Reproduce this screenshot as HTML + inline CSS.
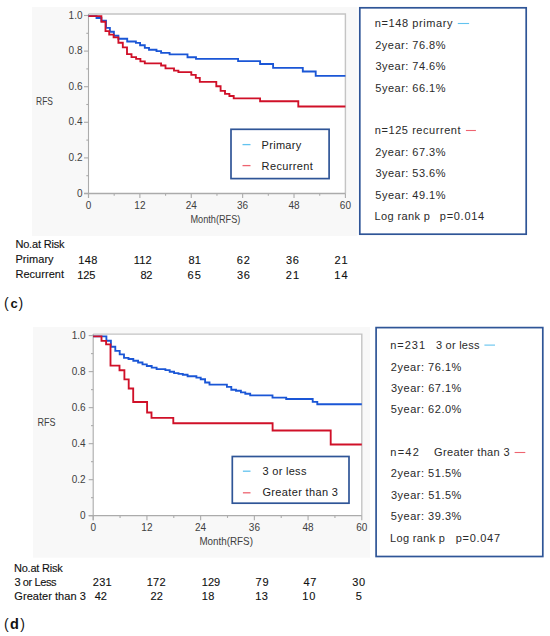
<!DOCTYPE html>
<html><head><meta charset="utf-8"><title>KM curves</title><style>
html,body{margin:0;padding:0;background:#fff;width:550px;height:636px;overflow:hidden;}
svg{display:block;font-family:"Liberation Sans", sans-serif;}
.tk{fill:#404040;}
.tt{font-size:9.7px;fill:#404040;}
.lg{font-size:11.4px;fill:#1a1a1a;}
.bx{font-size:11px;fill:#1a1a1a;letter-spacing:0.55px;}
.rk{font-size:11px;fill:#111;letter-spacing:-0.25px;}
.lab{font-size:14px;fill:#111;}
</style></head><body>
<svg width="550" height="636" viewBox="0 0 550 636">
<rect width="550" height="636" fill="#fff"/>
<rect x="32" y="7" width="325.5" height="229.0" fill="#F8F8F8"/>
<rect x="88.5" y="14.0" width="256.9" height="179.5" fill="#fff"/>
<path d="M88.5,14.0 H345.4 V193.5" fill="none" stroke="#C4C4C4" stroke-width="1.4"/>
<path d="M88.5,14.0 V198.0" fill="none" stroke="#ABABAB" stroke-width="1.1"/>
<path d="M84.0,193.5 H345.4" fill="none" stroke="#ABABAB" stroke-width="1.3"/>
<path d="M84.0,193.50 H88.5" stroke="#ABABAB" stroke-width="1.1"/>
<text x="82.5" y="196.5" text-anchor="end" class="tk" font-size="10.0">0</text>
<path d="M86.3,175.70 H88.5" stroke="#ABABAB" stroke-width="1.1"/>
<path d="M84.0,157.90 H88.5" stroke="#ABABAB" stroke-width="1.1"/>
<text x="82.5" y="160.9" text-anchor="end" class="tk" font-size="10.0">0.2</text>
<path d="M86.3,140.10 H88.5" stroke="#ABABAB" stroke-width="1.1"/>
<path d="M84.0,122.30 H88.5" stroke="#ABABAB" stroke-width="1.1"/>
<text x="82.5" y="125.3" text-anchor="end" class="tk" font-size="10.0">0.4</text>
<path d="M86.3,104.50 H88.5" stroke="#ABABAB" stroke-width="1.1"/>
<path d="M84.0,86.70 H88.5" stroke="#ABABAB" stroke-width="1.1"/>
<text x="82.5" y="89.7" text-anchor="end" class="tk" font-size="10.0">0.6</text>
<path d="M86.3,68.90 H88.5" stroke="#ABABAB" stroke-width="1.1"/>
<path d="M84.0,51.10 H88.5" stroke="#ABABAB" stroke-width="1.1"/>
<text x="82.5" y="54.1" text-anchor="end" class="tk" font-size="10.0">0.8</text>
<path d="M86.3,33.30 H88.5" stroke="#ABABAB" stroke-width="1.1"/>
<path d="M84.0,15.50 H88.5" stroke="#ABABAB" stroke-width="1.1"/>
<text x="82.5" y="18.5" text-anchor="end" class="tk" font-size="10.0">1.0</text>
<path d="M88.50,193.5 V198.0" stroke="#ABABAB" stroke-width="1.1"/>
<text x="88.5" y="208.5" text-anchor="middle" class="tk" font-size="10.0">0</text>
<path d="M114.19,193.5 V195.7" stroke="#ABABAB" stroke-width="1.1"/>
<path d="M139.88,193.5 V198.0" stroke="#ABABAB" stroke-width="1.1"/>
<text x="139.9" y="208.5" text-anchor="middle" class="tk" font-size="10.0">12</text>
<path d="M165.57,193.5 V195.7" stroke="#ABABAB" stroke-width="1.1"/>
<path d="M191.26,193.5 V198.0" stroke="#ABABAB" stroke-width="1.1"/>
<text x="191.3" y="208.5" text-anchor="middle" class="tk" font-size="10.0">24</text>
<path d="M216.95,193.5 V195.7" stroke="#ABABAB" stroke-width="1.1"/>
<path d="M242.64,193.5 V198.0" stroke="#ABABAB" stroke-width="1.1"/>
<text x="242.6" y="208.5" text-anchor="middle" class="tk" font-size="10.0">36</text>
<path d="M268.33,193.5 V195.7" stroke="#ABABAB" stroke-width="1.1"/>
<path d="M294.02,193.5 V198.0" stroke="#ABABAB" stroke-width="1.1"/>
<text x="294.0" y="208.5" text-anchor="middle" class="tk" font-size="10.0">48</text>
<path d="M319.71,193.5 V195.7" stroke="#ABABAB" stroke-width="1.1"/>
<path d="M345.40,193.5 V198.0" stroke="#ABABAB" stroke-width="1.1"/>
<text x="345.4" y="208.5" text-anchor="middle" class="tk" font-size="10.0">60</text>
<text transform="translate(36.11,105.0) scale(0.8194,1)" font-size="10.3" fill="#404040">RFS</text>
<text transform="translate(190.45,222.7) scale(0.9168,1)" font-size="10.0" fill="#404040">Month(RFS)</text>
<path d="M88.5,16.1 H96.5 V18.0 H101.4 V20.7 H106.0 V27.9 H109.9 V31.7 H113.9 V35.7 H118.4 V38.7 H127.2 V41.5 H135.9 V42.8 H140.1 V45.2 H144.8 V47.9 H149.0 V49.7 H156.5 V51.1 H161.1 V52.8 H169.6 V54.3 H187.5 V57.2 H196.0 V58.9 H238.1 V61.1 H260.1 V64.0 H273.1 V67.8 H302.8 V71.5 H315.7 V75.9 H345.4" fill="none" stroke="#1A56D6" stroke-width="1.85"/>
<path d="M88.5,16.1 H101.4 V21.7 H105.5 V31.1 H109.2 V34.6 H113.6 V37.4 H118.4 V42.7 H122.8 V47.4 H127.0 V54.1 H131.5 V57.1 H136.1 V58.9 H140.4 V61.4 H144.8 V63.4 H161.1 V65.5 H165.5 V68.3 H174.0 V70.6 H178.4 V72.1 H191.3 V74.8 H195.8 V77.9 H199.8 V81.8 H216.3 V86.2 H220.6 V90.8 H225.0 V93.8 H229.4 V96.0 H233.7 V98.3 H260.1 V101.2 H298.3 V106.5 H345.4" fill="none" stroke="#D01028" stroke-width="1.85"/>
<rect x="231.00" y="129.30" width="98.10" height="49.30" fill="#fff" stroke="#2F5597" stroke-width="1.7"/>
<path d="M242.5,144.6 H250.5" stroke="#62C3EF" stroke-width="1.3"/>
<path d="M242.5,165.6 H250.5" stroke="#EE6470" stroke-width="1.3"/>
<text x="261.60" y="148.8" font-size="11.0" letter-spacing="0.289" fill="#222" xml:space="preserve">Primary</text>
<text x="261.60" y="169.7" font-size="11.0" letter-spacing="0.361" fill="#222" xml:space="preserve">Recurrent</text>
<rect x="359.80" y="7.80" width="166.40" height="226.40" fill="#fff" stroke="#2F5597" stroke-width="1.7"/>
<text x="374.87" y="27.3" font-size="11.0" letter-spacing="0.578" fill="#2a2a2a" xml:space="preserve">n=148 primary</text>
<text x="375.25" y="49.0" font-size="11.0" letter-spacing="0.493" fill="#2a2a2a" xml:space="preserve">2year: 76.8%</text>
<text x="375.38" y="70.4" font-size="11.0" letter-spacing="0.481" fill="#2a2a2a" xml:space="preserve">3year: 74.6%</text>
<text x="375.36" y="91.6" font-size="11.0" letter-spacing="0.483" fill="#2a2a2a" xml:space="preserve">5year: 66.1%</text>
<text x="374.87" y="134.1" font-size="11.0" letter-spacing="0.553" fill="#2a2a2a" xml:space="preserve">n=125 recurrent</text>
<text x="375.25" y="155.6" font-size="11.0" letter-spacing="0.493" fill="#2a2a2a" xml:space="preserve">2year: 67.3%</text>
<text x="375.38" y="177.1" font-size="11.0" letter-spacing="0.481" fill="#2a2a2a" xml:space="preserve">3year: 53.6%</text>
<text x="375.36" y="198.6" font-size="11.0" letter-spacing="0.483" fill="#2a2a2a" xml:space="preserve">5year: 49.1%</text>
<text x="374.60" y="219.9" font-size="11.0" letter-spacing="0.354" fill="#2a2a2a" xml:space="preserve">Log rank p</text>
<text x="439.79" y="219.9" font-size="11.0" letter-spacing="0.727" fill="#2a2a2a" xml:space="preserve">p=0.014</text>
<path d="M457.8,23.5 H469.1" stroke="#62C3EF" stroke-width="1.1"/>
<path d="M465.9,130.5 H475.9" stroke="#EE6470" stroke-width="1.1"/>
<text x="15.40" y="248.2" font-size="11.0" letter-spacing="-0.183" fill="#111" stroke="#111" stroke-width="0.12" xml:space="preserve">No.at Risk</text>
<text x="15.40" y="263.4" font-size="11.0" letter-spacing="0.056" fill="#111" stroke="#111" stroke-width="0.12" xml:space="preserve">Primary</text>
<text x="15.40" y="278.4" font-size="11.0" letter-spacing="0.048" fill="#111" stroke="#111" stroke-width="0.12" xml:space="preserve">Recurrent</text>
<text x="78.26" y="263.9" font-size="11.0" letter-spacing="0.381" fill="#111" stroke="#111" stroke-width="0.12" xml:space="preserve">148</text>
<text x="77.36" y="278.9" font-size="11.0" letter-spacing="-0.177" fill="#111" stroke="#111" stroke-width="0.12" xml:space="preserve">125</text>
<text x="133.66" y="263.9" font-size="11.0" letter-spacing="0.169" fill="#111" stroke="#111" stroke-width="0.12" xml:space="preserve">112</text>
<text x="140.42" y="278.9" font-size="11.0" letter-spacing="-0.304" fill="#111" stroke="#111" stroke-width="0.12" xml:space="preserve">82</text>
<text x="188.52" y="263.9" font-size="11.0" letter-spacing="0.180" fill="#111" stroke="#111" stroke-width="0.12" xml:space="preserve">81</text>
<text x="187.44" y="278.9" font-size="11.0" letter-spacing="1.185" fill="#111" stroke="#111" stroke-width="0.12" xml:space="preserve">65</text>
<text x="236.84" y="263.9" font-size="11.0" letter-spacing="0.876" fill="#111" stroke="#111" stroke-width="0.12" xml:space="preserve">62</text>
<text x="236.98" y="278.9" font-size="11.0" letter-spacing="0.667" fill="#111" stroke="#111" stroke-width="0.12" xml:space="preserve">36</text>
<text x="285.98" y="263.9" font-size="11.0" letter-spacing="0.767" fill="#111" stroke="#111" stroke-width="0.12" xml:space="preserve">36</text>
<text x="285.85" y="278.9" font-size="11.0" letter-spacing="0.955" fill="#111" stroke="#111" stroke-width="0.12" xml:space="preserve">21</text>
<text x="334.55" y="263.9" font-size="11.0" letter-spacing="0.955" fill="#111" stroke="#111" stroke-width="0.12" xml:space="preserve">21</text>
<text x="334.26" y="278.9" font-size="11.0" letter-spacing="1.025" fill="#111" stroke="#111" stroke-width="0.12" xml:space="preserve">14</text>
<rect x="33.0" y="327.0" width="337.0" height="230.7" fill="#F8F8F8"/>
<rect x="93.2" y="334.1" width="268.6" height="181.6" fill="#fff"/>
<path d="M93.2,334.1 H361.8 V515.7" fill="none" stroke="#C4C4C4" stroke-width="1.4"/>
<path d="M93.2,334.1 V520.2" fill="none" stroke="#ABABAB" stroke-width="1.1"/>
<path d="M88.7,515.7 H361.8" fill="none" stroke="#ABABAB" stroke-width="1.3"/>
<path d="M88.7,515.70 H93.2" stroke="#ABABAB" stroke-width="1.1"/>
<text x="85.6" y="518.7" text-anchor="end" class="tk" font-size="10.0">0</text>
<path d="M91.0,497.69 H93.2" stroke="#ABABAB" stroke-width="1.1"/>
<path d="M88.7,479.68 H93.2" stroke="#ABABAB" stroke-width="1.1"/>
<text x="85.6" y="482.7" text-anchor="end" class="tk" font-size="10.0">0.2</text>
<path d="M91.0,461.67 H93.2" stroke="#ABABAB" stroke-width="1.1"/>
<path d="M88.7,443.66 H93.2" stroke="#ABABAB" stroke-width="1.1"/>
<text x="85.6" y="446.7" text-anchor="end" class="tk" font-size="10.0">0.4</text>
<path d="M91.0,425.65 H93.2" stroke="#ABABAB" stroke-width="1.1"/>
<path d="M88.7,407.64 H93.2" stroke="#ABABAB" stroke-width="1.1"/>
<text x="85.6" y="410.6" text-anchor="end" class="tk" font-size="10.0">0.6</text>
<path d="M91.0,389.63 H93.2" stroke="#ABABAB" stroke-width="1.1"/>
<path d="M88.7,371.62 H93.2" stroke="#ABABAB" stroke-width="1.1"/>
<text x="85.6" y="374.6" text-anchor="end" class="tk" font-size="10.0">0.8</text>
<path d="M91.0,353.61 H93.2" stroke="#ABABAB" stroke-width="1.1"/>
<path d="M88.7,335.60 H93.2" stroke="#ABABAB" stroke-width="1.1"/>
<text x="85.6" y="338.6" text-anchor="end" class="tk" font-size="10.0">1.0</text>
<path d="M93.20,515.7 V520.2" stroke="#ABABAB" stroke-width="1.1"/>
<text x="93.2" y="530.7" text-anchor="middle" class="tk" font-size="10.0">0</text>
<path d="M120.06,515.7 V517.9000000000001" stroke="#ABABAB" stroke-width="1.1"/>
<path d="M146.92,515.7 V520.2" stroke="#ABABAB" stroke-width="1.1"/>
<text x="146.9" y="530.7" text-anchor="middle" class="tk" font-size="10.0">12</text>
<path d="M173.78,515.7 V517.9000000000001" stroke="#ABABAB" stroke-width="1.1"/>
<path d="M200.64,515.7 V520.2" stroke="#ABABAB" stroke-width="1.1"/>
<text x="200.6" y="530.7" text-anchor="middle" class="tk" font-size="10.0">24</text>
<path d="M227.50,515.7 V517.9000000000001" stroke="#ABABAB" stroke-width="1.1"/>
<path d="M254.36,515.7 V520.2" stroke="#ABABAB" stroke-width="1.1"/>
<text x="254.4" y="530.7" text-anchor="middle" class="tk" font-size="10.0">36</text>
<path d="M281.22,515.7 V517.9000000000001" stroke="#ABABAB" stroke-width="1.1"/>
<path d="M308.08,515.7 V520.2" stroke="#ABABAB" stroke-width="1.1"/>
<text x="308.1" y="530.7" text-anchor="middle" class="tk" font-size="10.0">48</text>
<path d="M334.94,515.7 V517.9000000000001" stroke="#ABABAB" stroke-width="1.1"/>
<path d="M361.80,515.7 V520.2" stroke="#ABABAB" stroke-width="1.1"/>
<text x="361.8" y="530.7" text-anchor="middle" class="tk" font-size="10.0">60</text>
<text transform="translate(37.56,426.1) scale(0.8765,1)" font-size="10.3" fill="#404040">RFS</text>
<text transform="translate(199.39,545.0) scale(0.9847,1)" font-size="10.0" fill="#404040">Month(RFS)</text>
<path d="M93.2,336.3 H106.4 V340.7 H110.9 V346.7 H115.3 V350.8 H119.7 V354.3 H124.0 V357.9 H128.5 V359.0 H133.3 V360.7 H138.1 V362.5 H142.5 V364.4 H146.8 V366.0 H151.7 V367.6 H156.6 V369.1 H165.4 V370.1 H169.7 V371.7 H174.1 V373.1 H178.5 V373.9 H182.8 V374.7 H187.6 V376.2 H196.4 V377.6 H200.7 V379.2 H205.1 V382.5 H209.5 V384.6 H226.9 V386.8 H231.3 V389.7 H236.0 V390.7 H240.9 V392.3 H245.3 V393.7 H250.2 V395.4 H272.5 V397.6 H286.2 V399.0 H312.7 V401.8 H317.3 V404.2 H361.8" fill="none" stroke="#1A56D6" stroke-width="1.85"/>
<path d="M93.2,336.3 H101.5 V340.8 H106.1 V344.3 H110.5 V365.6 H119.5 V370.2 H124.4 V379.4 H128.7 V388.5 H133.2 V402.0 H147.1 V412.5 H151.5 V417.8 H173.3 V423.2 H272.6 V430.5 H330.7 V444.5 H361.8" fill="none" stroke="#D01028" stroke-width="1.85"/>
<rect x="232.30" y="456.50" width="116.70" height="46.70" fill="#fff" stroke="#2F5597" stroke-width="1.7"/>
<path d="M242.9,471.2 H250.5" stroke="#62C3EF" stroke-width="1.3"/>
<path d="M242.9,492.8 H250.5" stroke="#EE6470" stroke-width="1.3"/>
<text x="262.58" y="475.0" font-size="11.0" letter-spacing="0.281" fill="#222" xml:space="preserve">3 or less</text>
<text x="262.45" y="496.4" font-size="11.0" letter-spacing="0.347" fill="#222" xml:space="preserve">Greater than 3</text>
<rect x="376.10" y="327.60" width="166.70" height="228.90" fill="#fff" stroke="#2F5597" stroke-width="1.7"/>
<text x="390.27" y="349.0" font-size="11.0" letter-spacing="0.968" fill="#2a2a2a" xml:space="preserve">n=231</text>
<text x="435.88" y="349.0" font-size="11.0" letter-spacing="0.256" fill="#2a2a2a" xml:space="preserve">3 or less</text>
<text x="390.75" y="370.5" font-size="11.0" letter-spacing="0.530" fill="#2a2a2a" xml:space="preserve">2year: 76.1%</text>
<text x="390.88" y="391.8" font-size="11.0" letter-spacing="0.518" fill="#2a2a2a" xml:space="preserve">3year: 67.1%</text>
<text x="390.86" y="413.2" font-size="11.0" letter-spacing="0.519" fill="#2a2a2a" xml:space="preserve">5year: 62.0%</text>
<text x="390.27" y="456.1" font-size="11.0" letter-spacing="1.269" fill="#2a2a2a" xml:space="preserve">n=42</text>
<text x="434.05" y="456.1" font-size="11.0" letter-spacing="0.354" fill="#2a2a2a" xml:space="preserve">Greater than 3</text>
<text x="390.75" y="477.4" font-size="11.0" letter-spacing="0.530" fill="#2a2a2a" xml:space="preserve">2year: 51.5%</text>
<text x="390.88" y="498.6" font-size="11.0" letter-spacing="0.518" fill="#2a2a2a" xml:space="preserve">3year: 51.5%</text>
<text x="390.86" y="520.0" font-size="11.0" letter-spacing="0.519" fill="#2a2a2a" xml:space="preserve">5year: 39.3%</text>
<text x="390.10" y="541.5" font-size="11.0" letter-spacing="0.320" fill="#2a2a2a" xml:space="preserve">Log rank p</text>
<text x="455.79" y="541.5" font-size="11.0" letter-spacing="0.699" fill="#2a2a2a" xml:space="preserve">p=0.047</text>
<path d="M484.4,345.1 H495.0" stroke="#62C3EF" stroke-width="1.1"/>
<path d="M514.6,452.5 H525.3" stroke="#EE6470" stroke-width="1.1"/>
<text x="14.00" y="571.5" font-size="11.0" letter-spacing="-0.228" fill="#111" stroke="#111" stroke-width="0.12" xml:space="preserve">No.at Risk</text>
<text x="14.48" y="585.9" font-size="11.0" letter-spacing="-0.404" fill="#111" stroke="#111" stroke-width="0.12" xml:space="preserve">3 or Less</text>
<text x="14.35" y="600.1" font-size="11.0" letter-spacing="0.039" fill="#111" stroke="#111" stroke-width="0.12" xml:space="preserve">Greater than 3</text>
<text x="92.75" y="585.9" font-size="11.0" letter-spacing="0.319" fill="#111" stroke="#111" stroke-width="0.12" xml:space="preserve">231</text>
<text x="94.75" y="600.1" font-size="11.0" letter-spacing="-0.030" fill="#111" stroke="#111" stroke-width="0.12" xml:space="preserve">42</text>
<text x="146.66" y="585.9" font-size="11.0" letter-spacing="0.319" fill="#111" stroke="#111" stroke-width="0.12" xml:space="preserve">172</text>
<text x="150.45" y="600.1" font-size="11.0" letter-spacing="0.171" fill="#111" stroke="#111" stroke-width="0.12" xml:space="preserve">22</text>
<text x="201.66" y="585.9" font-size="11.0" letter-spacing="0.103" fill="#111" stroke="#111" stroke-width="0.12" xml:space="preserve">129</text>
<text x="201.66" y="600.1" font-size="11.0" letter-spacing="0.481" fill="#111" stroke="#111" stroke-width="0.12" xml:space="preserve">18</text>
<text x="255.44" y="585.9" font-size="11.0" letter-spacing="0.950" fill="#111" stroke="#111" stroke-width="0.12" xml:space="preserve">79</text>
<text x="255.16" y="600.1" font-size="11.0" letter-spacing="0.486" fill="#111" stroke="#111" stroke-width="0.12" xml:space="preserve">13</text>
<text x="303.45" y="585.9" font-size="11.0" letter-spacing="0.570" fill="#111" stroke="#111" stroke-width="0.12" xml:space="preserve">47</text>
<text x="302.16" y="600.1" font-size="11.0" letter-spacing="1.032" fill="#111" stroke="#111" stroke-width="0.12" xml:space="preserve">10</text>
<text x="352.28" y="585.9" font-size="11.0" letter-spacing="0.713" fill="#111" stroke="#111" stroke-width="0.12" xml:space="preserve">30</text>
<text x="355.76" y="600.1" font-size="11.0" letter-spacing="0.000" fill="#111" stroke="#111" stroke-width="0.12" xml:space="preserve">5</text>
<text y="307.9" class="lab"><tspan x="4.03">(</tspan><tspan x="10.4" font-weight="bold" font-size="13">c</tspan><tspan x="18.4">)</tspan></text>
<text y="628.9" class="lab"><tspan x="4.03">(</tspan><tspan x="9.9" font-weight="bold" font-size="14.5">d</tspan><tspan x="20.2">)</tspan></text>
</svg></body></html>
